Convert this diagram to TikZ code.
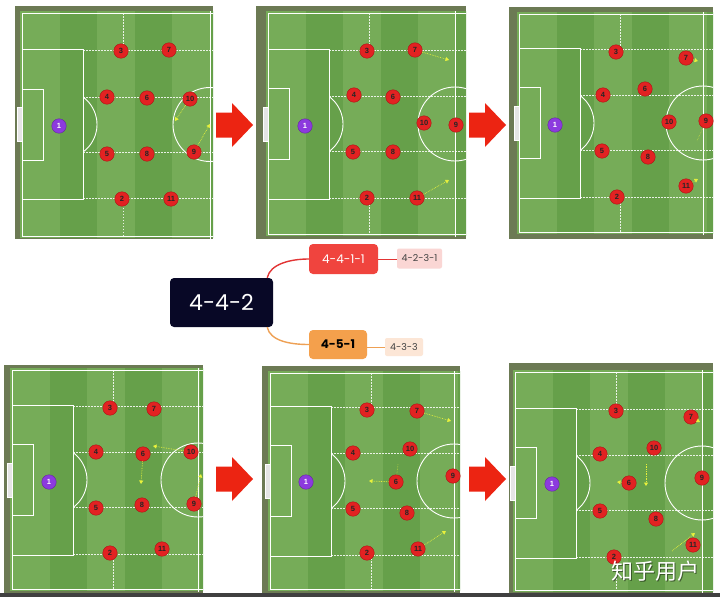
\documentclass[tikz,border=0pt]{standalone}
\usepackage{fontspec}
\newfontfamily\pop{Poppins}
\newfontfamily\cjk{Noto Sans CJK SC}
\newfontfamily\numf{Liberation Sans}
\usetikzlibrary{arrows.meta}
\definecolor{olivebd}{RGB}{108,122,84}
\definecolor{grassA}{RGB}{118,172,88}
\definecolor{grassB}{RGB}{102,160,74}
\definecolor{plred}{RGB}{226,34,34}
\definecolor{pldark}{RGB}{170,20,20}
\definecolor{gkpur}{RGB}{140,58,222}
\definecolor{yarrow}{RGB}{236,244,60}
\definecolor{arrred}{RGB}{236,36,18}
\definecolor{navy}{RGB}{8,8,38}
\definecolor{redbox}{RGB}{240,68,62}
\definecolor{pinkbox}{RGB}{250,214,212}
\definecolor{orangebox}{RGB}{244,160,76}
\definecolor{peachbox}{RGB}{252,230,214}
\definecolor{redline}{RGB}{226,52,52}
\definecolor{orangeline}{RGB}{238,160,84}
\tikzset{
  pline/.style={draw=white, line width=0.9pt},
  pdash/.style={draw=white, opacity=0.85, line width=0.6pt, dash pattern=on 1.5pt off 1.5pt},
  pl/.style={circle, fill=plred, draw=pldark, line width=0.4pt, inner sep=0pt, minimum size=14.5pt, font=\numf\fontsize{7.5}{7.5}\selectfont\bfseries, text=black!85},
  gk/.style={pl, fill=gkpur, draw=gkpur!70!black, text=white},
  ya/.style={draw=yarrow, opacity=0.95, densely dotted, line width=0.7pt, -{Triangle[length=3.5pt,width=4pt]}},
  yl/.style={draw=yarrow, opacity=0.6, densely dotted, line width=0.6pt},
  mapbox/.style={rounded corners=4pt, inner sep=0pt},
}
% #1 bl, #2 bt, #3 br, #4 bb, #5 x0, #6 y0, #7 y1, #8 xh, #9 cy
\newcommand\drawpitch[9]{%
  \fill[olivebd] (#1,#2) rectangle (#3,#4);
  \begin{scope}
    \clip ({#5-2},{#6-2}) rectangle (#3,{#7+2});
    \fill[grassA] ({#5-2},{#6-2}) rectangle (#3,{#7+2});
    \foreach \k in {1,3,5} {\fill[grassB] ({#5+\k*37.6},{#6-2}) rectangle ({#5+(\k+1)*37.6},{#7+2});}
    \draw[pdash] ({#5+61},{#9-74}) -- (#3,{#9-74});
    \draw[pdash] ({#5+61},{#9-27.5}) -- (#3,{#9-27.5});
    \draw[pdash] ({#5+61},{#9+27.5}) -- (#3,{#9+27.5});
    \draw[pdash] ({#5+61},{#9+74}) -- (#3,{#9+74});
    \draw[pdash] ({#5+101},#6) -- ({#5+101},{#9-74});
    \draw[pdash] ({#5+101},{#9+74}) -- ({#5+101},#7);
    \draw[pline] ({#3+5},#6) -- (#5,#6) -- (#5,#7) -- ({#3+5},#7);
    \draw[pline] (#8,{#6-3}) -- (#8,{#7+3});
    \draw[pline] (#8,#9) circle (37);
    \draw[pline] (#5,{#9-75}) rectangle ({#5+61},{#9+75});
    \draw[pline] (#5,{#9-35.5}) rectangle ({#5+21},{#9+35.5});
    \begin{scope}
      \clip ({#5+61},{#9-40}) rectangle ({#5+80},{#9+40});
      \draw[pline] ({#5+41},#9) circle (34);
    \end{scope}
  \end{scope}
  \draw[white, line width=0.6pt, fill=white!80!gray] ({#5-5},{#9-17}) rectangle (#5,{#9+17});
}
\newcommand\bigarrow[2]{%
  \fill[arrred] (#1,{#2-12.5}) -- ({#1+16},{#2-12.5}) -- ({#1+16},{#2-22}) -- ({#1+37},#2) -- ({#1+16},{#2+22}) -- ({#1+16},{#2+12.5}) -- (#1,{#2+12.5}) -- cycle;}
\newcommand\pl[4]{\node[pl] (#1) at (#2,#3) {#4};}
\begin{document}
\begin{tikzpicture}[x=1pt,y=-1pt]
\useasboundingbox (0,0) rectangle (720,597);
\fill[white] (0,0) rectangle (720,597);

% ---------- pitches ----------
\drawpitch{15}{6}{213}{239}{22}{13}{236}{210}{124.5}
\drawpitch{256}{6}{466}{239}{268}{13}{234}{455}{124}
\drawpitch{509}{7}{713}{239}{519}{14}{232}{703}{123}
\drawpitch{4}{365}{203}{593}{12}{370}{589}{198}{480}
\drawpitch{262}{366}{460}{593}{270}{373}{589}{454}{481}
\drawpitch{509}{363}{713}{593}{515}{372}{590}{702}{483}
\fill[black!75] (0,593) rectangle (720,597);

% ---------- arrows between pitches ----------
\bigarrow{216}{125}
\bigarrow{469}{125}
\bigarrow{216}{479}
\bigarrow{469}{479}

% ---------- free ends of the run arrows ----------
\coordinate (ya1) at (175,121);
\coordinate (ya2) at (210,124);
\coordinate (yb1) at (449,60);
\coordinate (yb2) at (449,180);
\coordinate (yc1) at (698,61);
\coordinate (yc2) at (698,179);
\coordinate (yc3) at (697,141);
\coordinate (yd1) at (153,446);
\coordinate (yd2) at (141,484);
\coordinate (yd3) at (201,474);
\coordinate (ye1) at (451,421);
\coordinate (ye2) at (369,481);
\coordinate (ye3) at (398,464);
\coordinate (ye4) at (446,531);
\coordinate (yf1) at (700,422);
\coordinate (yf2) at (617,482);
\coordinate (yf3s) at (646,464);
\coordinate (yf3) at (646,486);
\coordinate (yf4s) at (672,551);
\coordinate (yf4) at (695,533);

% ---------- pitch 1 ----------
\node[gk] (a1) at (59,126) {1};
\pl{a3}{121}{51}{3}\pl{a7}{169}{50}{7}
\pl{a4}{107}{97}{4}\pl{a6}{147}{98}{6}\pl{a10}{190}{99}{10}
\pl{a5}{107}{154}{5}\pl{a8}{147}{154}{8}\pl{a9}{194}{152}{9}
\pl{a2}{122}{199}{2}\pl{a11}{171}{199}{11}
\draw[ya] (a10) -- (ya1);
\draw[ya] (a9) -- (ya2);

% ---------- pitch 2 ----------
\node[gk] (b1) at (305,126) {1};
\pl{b3}{367}{51}{3}\pl{b7}{415}{50}{7}
\pl{b4}{354}{95}{4}\pl{b6}{393}{97}{6}
\pl{b10}{424}{123}{10}\pl{b9}{456}{125}{9}
\pl{b5}{353}{152}{5}\pl{b8}{393}{152}{8}
\pl{b2}{367}{198}{2}\pl{b11}{417}{198}{11}
\draw[ya] (b7) -- (yb1);
\draw[ya] (b11) -- (yb2);

% ---------- pitch 3 ----------
\node[gk] (c1) at (555,125) {1};
\pl{c3}{616}{52}{3}\pl{c7}{686}{58}{7}
\pl{c4}{603}{95}{4}\pl{c6}{645}{89}{6}
\pl{c10}{669}{122}{10}\pl{c9}{706}{121}{9}
\pl{c5}{602}{151}{5}\pl{c8}{648}{157}{8}
\pl{c11}{686}{186}{11}\pl{c2}{617}{197}{2}
\draw[ya] (c7) -- (yc1);
\draw[ya] (c11) -- (yc2);
\draw[yl] (c9) -- (yc3);

% ---------- pitch 4 ----------
\node[gk] (d1) at (49,482) {1};
\pl{d3}{110}{408}{3}\pl{d7}{154}{409}{7}
\pl{d4}{96}{452}{4}\pl{d6}{143}{454}{6}\pl{d10}{191}{452}{10}
\pl{d5}{96}{508}{5}\pl{d8}{142}{505}{8}\pl{d9}{194}{504}{9}
\pl{d2}{110}{553}{2}\pl{d11}{162}{549}{11}
\draw[ya] (d10) -- (yd1);
\draw[ya] (d6) -- (yd2);
\draw[ya] (d9) -- (yd3);

% ---------- pitch 5 ----------
\node[gk] (e1) at (306,482) {1};
\pl{e3}{367}{410}{3}\pl{e7}{417}{411}{7}
\pl{e4}{353}{453}{4}\pl{e10}{410}{449}{10}
\pl{e6}{396}{482}{6}\pl{e9}{453}{476}{9}
\pl{e5}{353}{509}{5}\pl{e8}{407}{513}{8}
\pl{e2}{367}{553}{2}\pl{e11}{418}{549}{11}
\draw[ya] (e7) -- (ye1);
\draw[ya] (e6) -- (ye2);
\draw[yl] (e6) -- (ye3);
\draw[ya] (e11) -- (ye4);

% ---------- pitch 6 ----------
\node[gk] (f1) at (552,484) {1};
\pl{f3}{616}{411}{3}\pl{f7}{691}{417}{7}
\pl{f4}{600}{454}{4}\pl{f10}{654}{448}{10}
\pl{f6}{629}{483}{6}\pl{f9}{702}{478}{9}
\pl{f5}{600}{511}{5}\pl{f8}{656}{519}{8}
\pl{f11}{693}{545}{11}\pl{f2}{614}{557}{2}
\draw[ya] (f7) -- (yf1);
\draw[ya] (f6) -- (yf2);
\draw[ya] (yf3s) -- (yf3);
\draw[ya] (yf4s) -- (yf4);

% ---------- mind map ----------
\node[mapbox, fill=navy, minimum width=103, minimum height=49, text=white, font=\pop\fontsize{22}{22}\selectfont] (m) at (221.5,302.5) {4-4-2};
\node[mapbox, fill=redbox, minimum width=69, minimum height=30, text=white, font=\pop\fontsize{12}{12}\selectfont] (n1) at (343.5,259) {4-4-1-1};
\node[mapbox, rounded corners=2pt, fill=pinkbox, minimum width=45, minimum height=20, text=black!75, font=\pop\fontsize{9.5}{9.5}\selectfont] (n11) at (419.5,258.5) {4-2-3-1};
\node[mapbox, fill=orangebox, minimum width=58, minimum height=29, text=black, font=\pop\fontsize{12}{12}\selectfont\bfseries] (n2) at (338,344.5) {4-5-1};
\node[mapbox, rounded corners=2pt, fill=peachbox, minimum width=38, minimum height=18, text=black!75, font=\pop\fontsize{9.5}{9.5}\selectfont] (n21) at (404,347) {4-3-3};
\draw[redline, line width=1.4pt] ([xshift=-6pt]m.north east) .. controls ([xshift=-3pt,yshift=14pt]m.north east) and ([xshift=-18pt]n1.west) .. (n1.west);
\draw[orangeline, line width=1.4pt] ([xshift=-6pt]m.south east) .. controls ([xshift=-3pt,yshift=-14pt]m.south east) and ([xshift=-18pt]n2.west) .. (n2.west);
\draw[redline, line width=1pt] (n1.east) -- (n11.west |- n1.east);
\draw[orangeline, line width=1pt] (n2.east |- n21.west) -- (n21.west);

% ---------- watermark ----------
\node[text=black, opacity=0.45, font=\cjk\fontsize{22}{22}\selectfont] (wms) at (656.5,572.5) {知乎用户};
\node[text=white, font=\cjk\fontsize{22}{22}\selectfont] (wm) at (655.5,571) {知乎用户};
\end{tikzpicture}
\end{document}
